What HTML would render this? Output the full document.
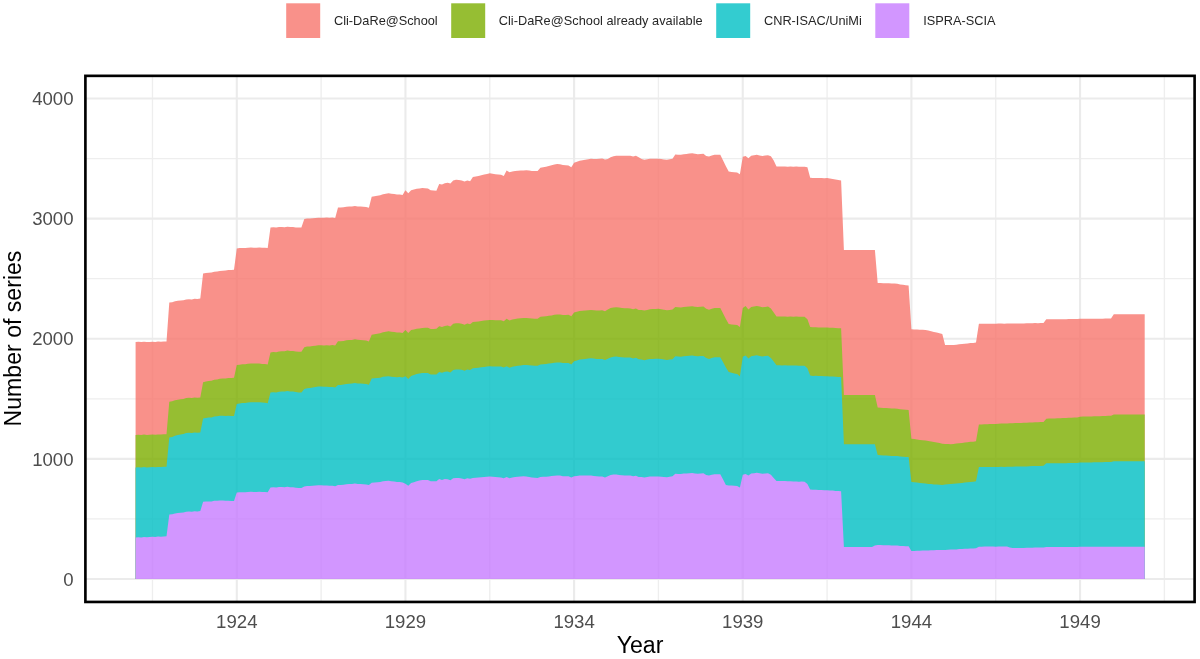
<!DOCTYPE html>
<html lang="en"><head><meta charset="utf-8"><title>Number of series per year</title>
<style>
html,body{margin:0;padding:0;background:#fff;}
body{width:1200px;height:659px;overflow:hidden;font-family:"Liberation Sans",Arial,sans-serif;}
svg{display:block}
svg text{font-family:"Liberation Sans",Arial,sans-serif;}
.mj{stroke:#ebebeb;stroke-width:2.1;}
.mn{stroke:#eeeeee;stroke-width:1.35;}
.tk{font-size:18.6px;fill:#4d4d4d;}
.ttl{font-size:23.1px;fill:#000;}
.lg{font-size:12.75px;fill:#262626;}
</style></head><body>
<svg width="1200" height="659" viewBox="0 0 1200 659">
<rect width="1200" height="659" fill="#fff"/>
<g id="legend">
<rect x="286.2" y="3.3" width="34" height="34.7" fill="#F8766D" fill-opacity="0.8"/>
<text x="334" y="24.8" class="lg">Cli-DaRe@School</text>
<rect x="451.2" y="3.3" width="34" height="34.7" fill="#7CAE00" fill-opacity="0.8"/>
<text x="498.7" y="24.8" class="lg" textLength="204" lengthAdjust="spacing">Cli-DaRe@School already available</text>
<rect x="716.2" y="3.3" width="34" height="34.7" fill="#00BFC4" fill-opacity="0.8"/>
<text x="764" y="24.8" class="lg">CNR-ISAC/UniMi</text>
<rect x="875.3" y="3.3" width="34" height="34.7" fill="#C77CFF" fill-opacity="0.8"/>
<text x="923.3" y="24.8" class="lg">ISPRA-SCIA</text>
</g>
<g id="grid">
<line x1="85.4" x2="1194.6" y1="518.94" y2="518.94" class="mn"/>
<line x1="85.4" x2="1194.6" y1="398.81" y2="398.81" class="mn"/>
<line x1="85.4" x2="1194.6" y1="278.69" y2="278.69" class="mn"/>
<line x1="85.4" x2="1194.6" y1="158.56" y2="158.56" class="mn"/>
<line y1="75.85" y2="601.95" x1="152.48" x2="152.48" class="mn"/>
<line y1="75.85" y2="601.95" x1="321.12" x2="321.12" class="mn"/>
<line y1="75.85" y2="601.95" x1="489.77" x2="489.77" class="mn"/>
<line y1="75.85" y2="601.95" x1="658.42" x2="658.42" class="mn"/>
<line y1="75.85" y2="601.95" x1="827.08" x2="827.08" class="mn"/>
<line y1="75.85" y2="601.95" x1="995.72" x2="995.72" class="mn"/>
<line y1="75.85" y2="601.95" x1="1164.38" x2="1164.38" class="mn"/>
<line x1="85.4" x2="1194.6" y1="579.00" y2="579.00" class="mj"/>
<line x1="85.4" x2="1194.6" y1="458.88" y2="458.88" class="mj"/>
<line x1="85.4" x2="1194.6" y1="338.75" y2="338.75" class="mj"/>
<line x1="85.4" x2="1194.6" y1="218.62" y2="218.62" class="mj"/>
<line x1="85.4" x2="1194.6" y1="98.50" y2="98.50" class="mj"/>
<line y1="75.85" y2="601.95" x1="236.80" x2="236.80" class="mj"/>
<line y1="75.85" y2="601.95" x1="405.45" x2="405.45" class="mj"/>
<line y1="75.85" y2="601.95" x1="574.10" x2="574.10" class="mj"/>
<line y1="75.85" y2="601.95" x1="742.75" x2="742.75" class="mj"/>
<line y1="75.85" y2="601.95" x1="911.40" x2="911.40" class="mj"/>
<line y1="75.85" y2="601.95" x1="1080.05" x2="1080.05" class="mj"/>
</g>
<g id="areas" opacity="0.8" stroke="none">
<path d="M135.6,341.9 L138.4,341.8 L141.2,342.1 L144.0,341.7 L146.9,342.0 L149.7,341.9 L152.5,341.7 L155.3,342.0 L158.1,341.6 L160.9,341.8 L163.7,341.5 L166.5,341.5 L169.3,302.5 L172.2,302.2 L175.0,301.3 L177.8,300.8 L180.6,300.6 L183.4,300.3 L186.2,299.5 L189.0,299.3 L191.8,299.5 L194.6,298.8 L197.4,299.1 L200.3,298.6 L203.1,273.5 L205.9,273.1 L208.7,272.7 L211.5,272.6 L214.3,271.7 L217.1,271.5 L219.9,271.1 L222.7,270.7 L225.6,270.6 L228.4,270.1 L231.2,269.9 L234.0,269.8 L236.8,248.4 L239.6,248.1 L242.4,247.9 L245.2,247.9 L248.0,247.7 L250.9,247.5 L253.7,247.7 L256.5,247.7 L259.3,247.4 L262.1,247.7 L264.9,247.7 L267.7,248.0 L270.5,227.6 L273.3,227.3 L276.2,227.6 L279.0,227.0 L281.8,227.1 L284.6,227.2 L287.4,226.8 L290.2,227.1 L293.0,226.9 L295.8,227.4 L298.6,227.6 L301.4,227.5 L304.3,219.0 L307.1,218.4 L309.9,218.5 L312.7,218.2 L315.5,218.0 L318.3,217.7 L321.1,217.7 L323.9,217.8 L326.7,217.6 L329.6,217.7 L332.4,217.4 L335.2,217.9 L338.0,207.6 L340.8,207.6 L343.6,207.3 L346.4,206.7 L349.2,206.6 L352.0,206.6 L354.9,206.0 L357.7,206.5 L360.5,206.6 L363.3,206.8 L366.1,207.0 L368.9,207.7 L371.7,196.8 L374.5,196.2 L377.3,195.7 L380.2,195.3 L383.0,194.2 L385.8,193.8 L388.6,193.3 L391.4,193.8 L394.2,194.1 L397.0,194.5 L399.8,194.5 L402.6,194.9 L405.4,190.3 L408.3,193.3 L411.1,190.3 L413.9,189.5 L416.7,188.8 L419.5,188.4 L422.3,188.0 L425.1,188.2 L427.9,188.5 L430.7,190.3 L433.6,190.5 L436.4,190.8 L439.2,184.0 L442.0,184.6 L444.8,183.2 L447.6,182.8 L450.4,183.5 L453.2,180.5 L456.0,179.8 L458.9,179.9 L461.7,180.5 L464.5,181.6 L467.3,180.5 L470.1,181.3 L472.9,177.1 L475.7,176.5 L478.5,176.0 L481.3,175.2 L484.2,174.5 L487.0,173.9 L489.8,173.3 L492.6,173.7 L495.4,174.2 L498.2,174.5 L501.0,174.8 L503.8,176.0 L506.6,170.5 L509.5,172.3 L512.3,171.5 L515.1,171.1 L517.9,170.8 L520.7,170.6 L523.5,170.4 L526.3,170.3 L529.1,170.6 L531.9,170.9 L534.7,171.1 L537.6,171.1 L540.4,167.8 L543.2,167.2 L546.0,166.7 L548.8,166.0 L551.6,165.3 L554.4,164.5 L557.2,163.9 L560.0,164.2 L562.9,165.1 L565.7,165.3 L568.5,165.5 L571.3,167.3 L574.1,162.8 L576.9,161.8 L579.7,160.8 L582.5,160.3 L585.3,159.8 L588.2,159.2 L591.0,158.7 L593.8,158.9 L596.6,159.0 L599.4,158.8 L602.2,158.6 L605.0,159.5 L607.8,159.0 L610.6,157.2 L613.5,156.2 L616.3,155.7 L619.1,155.7 L621.9,155.7 L624.7,155.7 L627.5,155.7 L630.3,155.7 L633.1,156.5 L635.9,155.7 L638.7,157.2 L641.6,159.0 L644.4,159.8 L647.2,159.2 L650.0,158.7 L652.8,158.7 L655.6,158.7 L658.4,158.7 L661.2,159.0 L664.0,159.4 L666.9,159.8 L669.7,159.2 L672.5,158.7 L675.3,154.5 L678.1,154.7 L680.9,154.8 L683.7,154.2 L686.5,153.9 L689.3,153.6 L692.2,153.3 L695.0,153.8 L697.8,154.2 L700.6,154.0 L703.4,153.8 L706.2,156.0 L709.0,156.5 L711.8,155.5 L714.6,154.8 L717.5,154.8 L720.3,154.8 L723.1,160.5 L725.9,166.2 L728.7,171.5 L731.5,172.0 L734.3,172.3 L737.1,172.5 L739.9,174.3 L742.8,156.8 L745.6,156.0 L748.4,158.3 L751.2,155.7 L754.0,155.2 L756.8,154.8 L759.6,155.4 L762.4,156.0 L765.2,155.6 L768.0,155.3 L770.9,156.3 L773.7,160.5 L776.5,166.5 L779.3,166.5 L782.1,166.6 L784.9,166.5 L787.7,166.7 L790.5,166.6 L793.3,166.7 L796.2,166.6 L799.0,166.8 L801.8,166.7 L804.6,166.8 L807.4,167.3 L810.2,177.8 L813.0,178.1 L815.8,178.0 L818.6,178.1 L821.5,178.1 L824.3,178.2 L827.1,178.1 L829.9,178.6 L832.7,179.0 L835.5,179.5 L838.3,180.0 L841.1,180.4 L843.9,250.0 L846.8,250.1 L849.6,250.1 L852.4,249.9 L855.2,249.9 L858.0,249.9 L860.8,249.9 L863.6,250.0 L866.4,250.0 L869.2,250.0 L872.0,249.9 L874.9,250.0 L877.7,283.0 L880.5,283.1 L883.3,283.3 L886.1,283.3 L888.9,283.3 L891.7,283.4 L894.5,283.5 L897.3,283.8 L900.2,284.4 L903.0,284.8 L905.8,285.2 L908.6,285.6 L911.4,329.2 L914.2,329.4 L917.0,329.5 L919.8,329.7 L922.6,329.8 L925.5,329.9 L928.3,330.6 L931.1,331.2 L933.9,331.9 L936.7,332.5 L939.5,333.2 L942.3,333.9 L945.1,344.9 L947.9,345.0 L950.8,344.9 L953.6,345.1 L956.4,344.7 L959.2,344.3 L962.0,344.0 L964.8,343.7 L967.6,343.4 L970.4,343.0 L973.2,342.9 L976.0,342.6 L978.9,323.7 L981.7,323.7 L984.5,323.7 L987.3,323.7 L990.1,323.7 L992.9,323.7 L995.7,323.8 L998.5,323.6 L1001.3,323.6 L1004.2,323.7 L1007.0,323.6 L1009.8,323.4 L1012.6,323.5 L1015.4,323.4 L1018.2,323.4 L1021.0,323.5 L1023.8,323.4 L1026.6,323.3 L1029.5,323.2 L1032.3,323.2 L1035.1,323.1 L1037.9,323.2 L1040.7,323.1 L1043.5,323.1 L1046.3,319.2 L1049.1,319.2 L1051.9,319.3 L1054.8,319.3 L1057.6,319.3 L1060.4,319.3 L1063.2,319.3 L1066.0,319.2 L1068.8,319.1 L1071.6,319.1 L1074.4,319.0 L1077.2,318.9 L1080.0,318.7 L1082.9,318.7 L1085.7,318.7 L1088.5,318.8 L1091.3,318.8 L1094.1,318.7 L1096.9,318.8 L1099.7,318.8 L1102.5,318.7 L1105.3,318.6 L1108.2,318.5 L1111.0,318.4 L1113.8,314.2 L1116.6,314.2 L1119.4,314.3 L1122.2,314.3 L1125.0,314.3 L1127.8,314.2 L1130.6,314.3 L1133.5,314.3 L1136.3,314.2 L1139.1,314.3 L1141.9,314.3 L1144.7,314.3 L1144.7,579.0 L1141.9,579.0 L1139.1,579.0 L1136.3,579.0 L1133.5,579.0 L1130.6,579.0 L1127.8,579.0 L1125.0,579.0 L1122.2,579.0 L1119.4,579.0 L1116.6,579.0 L1113.8,579.0 L1111.0,579.0 L1108.2,579.0 L1105.3,579.0 L1102.5,579.0 L1099.7,579.0 L1096.9,579.0 L1094.1,579.0 L1091.3,579.0 L1088.5,579.0 L1085.7,579.0 L1082.9,579.0 L1080.0,579.0 L1077.2,579.0 L1074.4,579.0 L1071.6,579.0 L1068.8,579.0 L1066.0,579.0 L1063.2,579.0 L1060.4,579.0 L1057.6,579.0 L1054.8,579.0 L1051.9,579.0 L1049.1,579.0 L1046.3,579.0 L1043.5,579.0 L1040.7,579.0 L1037.9,579.0 L1035.1,579.0 L1032.3,579.0 L1029.5,579.0 L1026.6,579.0 L1023.8,579.0 L1021.0,579.0 L1018.2,579.0 L1015.4,579.0 L1012.6,579.0 L1009.8,579.0 L1007.0,579.0 L1004.2,579.0 L1001.3,579.0 L998.5,579.0 L995.7,579.0 L992.9,579.0 L990.1,579.0 L987.3,579.0 L984.5,579.0 L981.7,579.0 L978.9,579.0 L976.0,579.0 L973.2,579.0 L970.4,579.0 L967.6,579.0 L964.8,579.0 L962.0,579.0 L959.2,579.0 L956.4,579.0 L953.6,579.0 L950.8,579.0 L947.9,579.0 L945.1,579.0 L942.3,579.0 L939.5,579.0 L936.7,579.0 L933.9,579.0 L931.1,579.0 L928.3,579.0 L925.5,579.0 L922.6,579.0 L919.8,579.0 L917.0,579.0 L914.2,579.0 L911.4,579.0 L908.6,579.0 L905.8,579.0 L903.0,579.0 L900.2,579.0 L897.3,579.0 L894.5,579.0 L891.7,579.0 L888.9,579.0 L886.1,579.0 L883.3,579.0 L880.5,579.0 L877.7,579.0 L874.9,579.0 L872.0,579.0 L869.2,579.0 L866.4,579.0 L863.6,579.0 L860.8,579.0 L858.0,579.0 L855.2,579.0 L852.4,579.0 L849.6,579.0 L846.8,579.0 L843.9,579.0 L841.1,579.0 L838.3,579.0 L835.5,579.0 L832.7,579.0 L829.9,579.0 L827.1,579.0 L824.3,579.0 L821.5,579.0 L818.6,579.0 L815.8,579.0 L813.0,579.0 L810.2,579.0 L807.4,579.0 L804.6,579.0 L801.8,579.0 L799.0,579.0 L796.2,579.0 L793.3,579.0 L790.5,579.0 L787.7,579.0 L784.9,579.0 L782.1,579.0 L779.3,579.0 L776.5,579.0 L773.7,579.0 L770.9,579.0 L768.0,579.0 L765.2,579.0 L762.4,579.0 L759.6,579.0 L756.8,579.0 L754.0,579.0 L751.2,579.0 L748.4,579.0 L745.6,579.0 L742.8,579.0 L739.9,579.0 L737.1,579.0 L734.3,579.0 L731.5,579.0 L728.7,579.0 L725.9,579.0 L723.1,579.0 L720.3,579.0 L717.5,579.0 L714.6,579.0 L711.8,579.0 L709.0,579.0 L706.2,579.0 L703.4,579.0 L700.6,579.0 L697.8,579.0 L695.0,579.0 L692.2,579.0 L689.3,579.0 L686.5,579.0 L683.7,579.0 L680.9,579.0 L678.1,579.0 L675.3,579.0 L672.5,579.0 L669.7,579.0 L666.9,579.0 L664.0,579.0 L661.2,579.0 L658.4,579.0 L655.6,579.0 L652.8,579.0 L650.0,579.0 L647.2,579.0 L644.4,579.0 L641.6,579.0 L638.7,579.0 L635.9,579.0 L633.1,579.0 L630.3,579.0 L627.5,579.0 L624.7,579.0 L621.9,579.0 L619.1,579.0 L616.3,579.0 L613.5,579.0 L610.6,579.0 L607.8,579.0 L605.0,579.0 L602.2,579.0 L599.4,579.0 L596.6,579.0 L593.8,579.0 L591.0,579.0 L588.2,579.0 L585.3,579.0 L582.5,579.0 L579.7,579.0 L576.9,579.0 L574.1,579.0 L571.3,579.0 L568.5,579.0 L565.7,579.0 L562.9,579.0 L560.0,579.0 L557.2,579.0 L554.4,579.0 L551.6,579.0 L548.8,579.0 L546.0,579.0 L543.2,579.0 L540.4,579.0 L537.6,579.0 L534.7,579.0 L531.9,579.0 L529.1,579.0 L526.3,579.0 L523.5,579.0 L520.7,579.0 L517.9,579.0 L515.1,579.0 L512.3,579.0 L509.5,579.0 L506.6,579.0 L503.8,579.0 L501.0,579.0 L498.2,579.0 L495.4,579.0 L492.6,579.0 L489.8,579.0 L487.0,579.0 L484.2,579.0 L481.3,579.0 L478.5,579.0 L475.7,579.0 L472.9,579.0 L470.1,579.0 L467.3,579.0 L464.5,579.0 L461.7,579.0 L458.9,579.0 L456.0,579.0 L453.2,579.0 L450.4,579.0 L447.6,579.0 L444.8,579.0 L442.0,579.0 L439.2,579.0 L436.4,579.0 L433.6,579.0 L430.7,579.0 L427.9,579.0 L425.1,579.0 L422.3,579.0 L419.5,579.0 L416.7,579.0 L413.9,579.0 L411.1,579.0 L408.3,579.0 L405.4,579.0 L402.6,579.0 L399.8,579.0 L397.0,579.0 L394.2,579.0 L391.4,579.0 L388.6,579.0 L385.8,579.0 L383.0,579.0 L380.2,579.0 L377.3,579.0 L374.5,579.0 L371.7,579.0 L368.9,579.0 L366.1,579.0 L363.3,579.0 L360.5,579.0 L357.7,579.0 L354.9,579.0 L352.0,579.0 L349.2,579.0 L346.4,579.0 L343.6,579.0 L340.8,579.0 L338.0,579.0 L335.2,579.0 L332.4,579.0 L329.6,579.0 L326.7,579.0 L323.9,579.0 L321.1,579.0 L318.3,579.0 L315.5,579.0 L312.7,579.0 L309.9,579.0 L307.1,579.0 L304.3,579.0 L301.4,579.0 L298.6,579.0 L295.8,579.0 L293.0,579.0 L290.2,579.0 L287.4,579.0 L284.6,579.0 L281.8,579.0 L279.0,579.0 L276.2,579.0 L273.3,579.0 L270.5,579.0 L267.7,579.0 L264.9,579.0 L262.1,579.0 L259.3,579.0 L256.5,579.0 L253.7,579.0 L250.9,579.0 L248.0,579.0 L245.2,579.0 L242.4,579.0 L239.6,579.0 L236.8,579.0 L234.0,579.0 L231.2,579.0 L228.4,579.0 L225.6,579.0 L222.7,579.0 L219.9,579.0 L217.1,579.0 L214.3,579.0 L211.5,579.0 L208.7,579.0 L205.9,579.0 L203.1,579.0 L200.3,579.0 L197.4,579.0 L194.6,579.0 L191.8,579.0 L189.0,579.0 L186.2,579.0 L183.4,579.0 L180.6,579.0 L177.8,579.0 L175.0,579.0 L172.2,579.0 L169.3,579.0 L166.5,579.0 L163.7,579.0 L160.9,579.0 L158.1,579.0 L155.3,579.0 L152.5,579.0 L149.7,579.0 L146.9,579.0 L144.0,579.0 L141.2,579.0 L138.4,579.0 L135.6,579.0Z" fill="#F8766D"/>
<path d="M135.6,434.9 L138.4,434.7 L141.2,435.0 L144.0,434.6 L146.9,434.9 L149.7,434.7 L152.5,434.5 L155.3,434.7 L158.1,434.4 L160.9,434.6 L163.7,434.3 L166.5,434.3 L169.3,401.7 L172.2,401.3 L175.0,400.3 L177.8,399.7 L180.6,399.3 L183.4,398.9 L186.2,398.0 L189.0,397.8 L191.8,398.1 L194.6,397.4 L197.4,397.8 L200.3,397.4 L203.1,382.3 L205.9,381.6 L208.7,381.1 L211.5,380.8 L214.3,379.8 L217.1,379.4 L219.9,378.8 L222.7,378.5 L225.6,378.5 L228.4,378.0 L231.2,377.9 L234.0,377.8 L236.8,365.1 L239.6,364.7 L242.4,364.3 L245.2,364.2 L248.0,363.8 L250.9,363.4 L253.7,363.4 L256.5,363.6 L259.3,363.5 L262.1,363.9 L264.9,364.1 L267.7,364.5 L270.5,352.6 L273.3,352.1 L276.2,352.2 L279.0,351.4 L281.8,351.3 L284.6,351.2 L287.4,350.5 L290.2,350.9 L293.0,350.9 L295.8,351.5 L298.6,351.7 L301.4,351.8 L304.3,347.2 L307.1,346.6 L309.9,346.5 L312.7,346.1 L315.5,345.7 L318.3,345.3 L321.1,345.2 L323.9,345.4 L326.7,345.2 L329.6,345.4 L332.4,345.1 L335.2,345.6 L338.0,341.3 L340.8,341.3 L343.6,340.9 L346.4,340.2 L349.2,340.0 L352.0,339.9 L354.9,339.2 L357.7,339.8 L360.5,340.0 L363.3,340.3 L366.1,340.6 L368.9,341.4 L371.7,334.8 L374.5,334.2 L377.3,333.7 L380.2,333.3 L383.0,332.2 L385.8,331.8 L388.6,331.3 L391.4,331.8 L394.2,332.1 L397.0,332.5 L399.8,332.5 L402.6,332.9 L405.4,330.0 L408.3,333.1 L411.1,330.1 L413.9,329.4 L416.7,328.7 L419.5,328.4 L422.3,328.0 L425.1,327.8 L427.9,327.7 L430.7,329.1 L433.6,328.9 L436.4,328.8 L439.2,326.2 L442.0,327.0 L444.8,325.9 L447.6,325.6 L450.4,326.5 L453.2,323.8 L456.0,323.2 L458.9,323.2 L461.7,323.8 L464.5,324.8 L467.3,323.6 L470.1,324.2 L472.9,322.0 L475.7,321.7 L478.5,321.5 L481.3,321.0 L484.2,320.6 L487.0,320.3 L489.8,320.0 L492.6,320.1 L495.4,320.3 L498.2,320.3 L501.0,320.3 L503.8,321.2 L506.6,318.8 L509.5,320.4 L512.3,319.5 L515.1,319.0 L517.9,318.6 L520.7,318.3 L523.5,318.0 L526.3,317.9 L529.1,318.2 L531.9,318.5 L534.7,318.7 L537.6,318.8 L540.4,316.8 L543.2,316.4 L546.0,316.2 L548.8,315.8 L551.6,315.4 L554.4,314.8 L557.2,314.5 L560.0,314.5 L562.9,315.0 L565.7,314.9 L568.5,314.8 L571.3,316.2 L574.1,312.5 L576.9,311.8 L579.7,311.0 L582.5,310.8 L585.3,310.6 L588.2,310.2 L591.0,310.0 L593.8,310.3 L596.6,310.5 L599.4,310.4 L602.2,310.3 L605.0,311.2 L607.8,309.5 L610.6,308.0 L613.5,307.4 L616.3,307.2 L619.1,307.6 L621.9,307.9 L624.7,308.2 L627.5,308.3 L630.3,308.4 L633.1,309.2 L635.9,308.4 L638.7,310.0 L641.6,310.0 L644.4,310.6 L647.2,309.9 L650.0,309.2 L652.8,309.1 L655.6,308.9 L658.4,308.8 L661.2,309.2 L664.0,309.8 L666.9,310.3 L669.7,309.9 L672.5,309.5 L675.3,307.0 L678.1,307.3 L680.9,307.5 L683.7,306.9 L686.5,306.7 L689.3,306.5 L692.2,306.2 L695.0,306.7 L697.8,307.1 L700.6,306.8 L703.4,306.6 L706.2,308.8 L709.0,309.8 L711.8,308.8 L714.6,308.1 L717.5,308.1 L720.3,308.1 L723.1,313.5 L725.9,318.9 L728.7,324.0 L731.5,324.4 L734.3,324.8 L737.1,325.1 L739.9,327.1 L742.8,308.1 L745.6,306.0 L748.4,309.6 L751.2,306.9 L754.0,306.4 L756.8,306.1 L759.6,306.6 L762.4,307.2 L765.2,306.9 L768.0,306.6 L770.9,308.5 L773.7,312.5 L776.5,316.5 L779.3,316.5 L782.1,316.6 L784.9,316.5 L787.7,316.7 L790.5,316.6 L793.3,316.7 L796.2,316.6 L799.0,316.8 L801.8,316.7 L804.6,316.8 L807.4,319.3 L810.2,327.0 L813.0,327.3 L815.8,327.3 L818.6,327.4 L821.5,327.4 L824.3,327.6 L827.1,327.5 L829.9,327.7 L832.7,327.8 L835.5,328.0 L838.3,328.2 L841.1,328.2 L843.9,395.0 L846.8,395.1 L849.6,395.1 L852.4,394.9 L855.2,394.9 L858.0,394.9 L860.8,394.9 L863.6,395.0 L866.4,395.0 L869.2,395.0 L872.0,394.9 L874.9,395.0 L877.7,407.5 L880.5,407.7 L883.3,407.9 L886.1,408.0 L888.9,408.2 L891.7,408.4 L894.5,408.5 L897.3,408.7 L900.2,409.2 L903.0,409.5 L905.8,409.8 L908.6,410.1 L911.4,438.7 L914.2,439.1 L917.0,439.4 L919.8,439.9 L922.6,440.2 L925.5,440.5 L928.3,440.9 L931.1,441.5 L933.9,442.1 L936.7,442.6 L939.5,443.1 L942.3,443.7 L945.1,443.9 L947.9,444.1 L950.8,444.2 L953.6,444.0 L956.4,443.6 L959.2,443.2 L962.0,442.9 L964.8,442.6 L967.6,442.2 L970.4,441.8 L973.2,441.7 L976.0,441.3 L978.9,424.5 L981.7,424.4 L984.5,424.3 L987.3,424.2 L990.1,424.1 L992.9,424.0 L995.7,424.1 L998.5,423.8 L1001.3,423.6 L1004.2,423.6 L1007.0,423.4 L1009.8,423.2 L1012.6,423.3 L1015.4,423.0 L1018.2,423.0 L1021.0,423.0 L1023.8,422.8 L1026.6,422.7 L1029.5,422.5 L1032.3,422.4 L1035.1,422.2 L1037.9,422.3 L1040.7,422.1 L1043.5,422.1 L1046.3,418.7 L1049.1,418.6 L1051.9,418.6 L1054.8,418.5 L1057.6,418.3 L1060.4,418.2 L1063.2,418.1 L1066.0,417.9 L1068.8,417.7 L1071.6,417.7 L1074.4,417.6 L1077.2,417.4 L1080.0,416.7 L1082.9,416.6 L1085.7,416.5 L1088.5,416.5 L1091.3,416.5 L1094.1,416.3 L1096.9,416.3 L1099.7,416.2 L1102.5,416.1 L1105.3,415.9 L1108.2,415.8 L1111.0,415.7 L1113.8,414.4 L1116.6,414.4 L1119.4,414.5 L1122.2,414.6 L1125.0,414.6 L1127.8,414.5 L1130.6,414.5 L1133.5,414.6 L1136.3,414.4 L1139.1,414.5 L1141.9,414.6 L1144.7,414.6 L1144.7,579.0 L1141.9,579.0 L1139.1,579.0 L1136.3,579.0 L1133.5,579.0 L1130.6,579.0 L1127.8,579.0 L1125.0,579.0 L1122.2,579.0 L1119.4,579.0 L1116.6,579.0 L1113.8,579.0 L1111.0,579.0 L1108.2,579.0 L1105.3,579.0 L1102.5,579.0 L1099.7,579.0 L1096.9,579.0 L1094.1,579.0 L1091.3,579.0 L1088.5,579.0 L1085.7,579.0 L1082.9,579.0 L1080.0,579.0 L1077.2,579.0 L1074.4,579.0 L1071.6,579.0 L1068.8,579.0 L1066.0,579.0 L1063.2,579.0 L1060.4,579.0 L1057.6,579.0 L1054.8,579.0 L1051.9,579.0 L1049.1,579.0 L1046.3,579.0 L1043.5,579.0 L1040.7,579.0 L1037.9,579.0 L1035.1,579.0 L1032.3,579.0 L1029.5,579.0 L1026.6,579.0 L1023.8,579.0 L1021.0,579.0 L1018.2,579.0 L1015.4,579.0 L1012.6,579.0 L1009.8,579.0 L1007.0,579.0 L1004.2,579.0 L1001.3,579.0 L998.5,579.0 L995.7,579.0 L992.9,579.0 L990.1,579.0 L987.3,579.0 L984.5,579.0 L981.7,579.0 L978.9,579.0 L976.0,579.0 L973.2,579.0 L970.4,579.0 L967.6,579.0 L964.8,579.0 L962.0,579.0 L959.2,579.0 L956.4,579.0 L953.6,579.0 L950.8,579.0 L947.9,579.0 L945.1,579.0 L942.3,579.0 L939.5,579.0 L936.7,579.0 L933.9,579.0 L931.1,579.0 L928.3,579.0 L925.5,579.0 L922.6,579.0 L919.8,579.0 L917.0,579.0 L914.2,579.0 L911.4,579.0 L908.6,579.0 L905.8,579.0 L903.0,579.0 L900.2,579.0 L897.3,579.0 L894.5,579.0 L891.7,579.0 L888.9,579.0 L886.1,579.0 L883.3,579.0 L880.5,579.0 L877.7,579.0 L874.9,579.0 L872.0,579.0 L869.2,579.0 L866.4,579.0 L863.6,579.0 L860.8,579.0 L858.0,579.0 L855.2,579.0 L852.4,579.0 L849.6,579.0 L846.8,579.0 L843.9,579.0 L841.1,579.0 L838.3,579.0 L835.5,579.0 L832.7,579.0 L829.9,579.0 L827.1,579.0 L824.3,579.0 L821.5,579.0 L818.6,579.0 L815.8,579.0 L813.0,579.0 L810.2,579.0 L807.4,579.0 L804.6,579.0 L801.8,579.0 L799.0,579.0 L796.2,579.0 L793.3,579.0 L790.5,579.0 L787.7,579.0 L784.9,579.0 L782.1,579.0 L779.3,579.0 L776.5,579.0 L773.7,579.0 L770.9,579.0 L768.0,579.0 L765.2,579.0 L762.4,579.0 L759.6,579.0 L756.8,579.0 L754.0,579.0 L751.2,579.0 L748.4,579.0 L745.6,579.0 L742.8,579.0 L739.9,579.0 L737.1,579.0 L734.3,579.0 L731.5,579.0 L728.7,579.0 L725.9,579.0 L723.1,579.0 L720.3,579.0 L717.5,579.0 L714.6,579.0 L711.8,579.0 L709.0,579.0 L706.2,579.0 L703.4,579.0 L700.6,579.0 L697.8,579.0 L695.0,579.0 L692.2,579.0 L689.3,579.0 L686.5,579.0 L683.7,579.0 L680.9,579.0 L678.1,579.0 L675.3,579.0 L672.5,579.0 L669.7,579.0 L666.9,579.0 L664.0,579.0 L661.2,579.0 L658.4,579.0 L655.6,579.0 L652.8,579.0 L650.0,579.0 L647.2,579.0 L644.4,579.0 L641.6,579.0 L638.7,579.0 L635.9,579.0 L633.1,579.0 L630.3,579.0 L627.5,579.0 L624.7,579.0 L621.9,579.0 L619.1,579.0 L616.3,579.0 L613.5,579.0 L610.6,579.0 L607.8,579.0 L605.0,579.0 L602.2,579.0 L599.4,579.0 L596.6,579.0 L593.8,579.0 L591.0,579.0 L588.2,579.0 L585.3,579.0 L582.5,579.0 L579.7,579.0 L576.9,579.0 L574.1,579.0 L571.3,579.0 L568.5,579.0 L565.7,579.0 L562.9,579.0 L560.0,579.0 L557.2,579.0 L554.4,579.0 L551.6,579.0 L548.8,579.0 L546.0,579.0 L543.2,579.0 L540.4,579.0 L537.6,579.0 L534.7,579.0 L531.9,579.0 L529.1,579.0 L526.3,579.0 L523.5,579.0 L520.7,579.0 L517.9,579.0 L515.1,579.0 L512.3,579.0 L509.5,579.0 L506.6,579.0 L503.8,579.0 L501.0,579.0 L498.2,579.0 L495.4,579.0 L492.6,579.0 L489.8,579.0 L487.0,579.0 L484.2,579.0 L481.3,579.0 L478.5,579.0 L475.7,579.0 L472.9,579.0 L470.1,579.0 L467.3,579.0 L464.5,579.0 L461.7,579.0 L458.9,579.0 L456.0,579.0 L453.2,579.0 L450.4,579.0 L447.6,579.0 L444.8,579.0 L442.0,579.0 L439.2,579.0 L436.4,579.0 L433.6,579.0 L430.7,579.0 L427.9,579.0 L425.1,579.0 L422.3,579.0 L419.5,579.0 L416.7,579.0 L413.9,579.0 L411.1,579.0 L408.3,579.0 L405.4,579.0 L402.6,579.0 L399.8,579.0 L397.0,579.0 L394.2,579.0 L391.4,579.0 L388.6,579.0 L385.8,579.0 L383.0,579.0 L380.2,579.0 L377.3,579.0 L374.5,579.0 L371.7,579.0 L368.9,579.0 L366.1,579.0 L363.3,579.0 L360.5,579.0 L357.7,579.0 L354.9,579.0 L352.0,579.0 L349.2,579.0 L346.4,579.0 L343.6,579.0 L340.8,579.0 L338.0,579.0 L335.2,579.0 L332.4,579.0 L329.6,579.0 L326.7,579.0 L323.9,579.0 L321.1,579.0 L318.3,579.0 L315.5,579.0 L312.7,579.0 L309.9,579.0 L307.1,579.0 L304.3,579.0 L301.4,579.0 L298.6,579.0 L295.8,579.0 L293.0,579.0 L290.2,579.0 L287.4,579.0 L284.6,579.0 L281.8,579.0 L279.0,579.0 L276.2,579.0 L273.3,579.0 L270.5,579.0 L267.7,579.0 L264.9,579.0 L262.1,579.0 L259.3,579.0 L256.5,579.0 L253.7,579.0 L250.9,579.0 L248.0,579.0 L245.2,579.0 L242.4,579.0 L239.6,579.0 L236.8,579.0 L234.0,579.0 L231.2,579.0 L228.4,579.0 L225.6,579.0 L222.7,579.0 L219.9,579.0 L217.1,579.0 L214.3,579.0 L211.5,579.0 L208.7,579.0 L205.9,579.0 L203.1,579.0 L200.3,579.0 L197.4,579.0 L194.6,579.0 L191.8,579.0 L189.0,579.0 L186.2,579.0 L183.4,579.0 L180.6,579.0 L177.8,579.0 L175.0,579.0 L172.2,579.0 L169.3,579.0 L166.5,579.0 L163.7,579.0 L160.9,579.0 L158.1,579.0 L155.3,579.0 L152.5,579.0 L149.7,579.0 L146.9,579.0 L144.0,579.0 L141.2,579.0 L138.4,579.0 L135.6,579.0Z" fill="#7CAE00"/>
<path d="M135.6,467.4 L138.4,467.3 L141.2,467.5 L144.0,467.1 L146.9,467.4 L149.7,467.2 L152.5,467.0 L155.3,467.2 L158.1,466.9 L160.9,467.1 L163.7,466.8 L166.5,466.8 L169.3,437.5 L172.2,436.9 L175.0,435.8 L177.8,435.1 L180.6,434.6 L183.4,434.0 L186.2,433.0 L189.0,432.8 L191.8,433.1 L194.6,432.4 L197.4,432.8 L200.3,432.4 L203.1,418.5 L205.9,418.0 L208.7,417.6 L211.5,417.4 L214.3,416.6 L217.1,416.3 L219.9,415.8 L222.7,415.8 L225.6,416.0 L228.4,415.8 L231.2,415.9 L234.0,416.1 L236.8,403.9 L239.6,403.4 L242.4,403.1 L245.2,402.9 L248.0,402.6 L250.9,402.2 L253.7,402.2 L256.5,402.3 L259.3,402.3 L262.1,402.6 L264.9,402.8 L267.7,403.2 L270.5,392.6 L273.3,392.2 L276.2,392.4 L279.0,391.7 L281.8,391.6 L284.6,391.6 L287.4,391.1 L290.2,391.5 L293.0,391.5 L295.8,392.1 L298.6,392.4 L301.4,392.5 L304.3,389.0 L307.1,388.2 L309.9,388.0 L312.7,387.6 L315.5,387.1 L318.3,386.6 L321.1,386.4 L323.9,386.8 L326.7,386.7 L329.6,387.1 L332.4,387.0 L335.2,387.6 L338.0,385.1 L340.8,385.0 L343.6,384.6 L346.4,384.0 L349.2,383.8 L352.0,383.6 L354.9,383.0 L357.7,383.5 L360.5,383.6 L363.3,383.8 L366.1,384.0 L368.9,384.7 L371.7,378.5 L374.5,378.2 L377.3,377.9 L380.2,377.7 L383.0,376.8 L385.8,376.6 L388.6,376.3 L391.4,376.7 L394.2,376.9 L397.0,377.2 L399.8,377.1 L402.6,377.5 L405.4,376.2 L408.3,378.9 L411.1,375.9 L413.9,375.0 L416.7,374.1 L419.5,373.6 L422.3,373.0 L425.1,373.0 L427.9,373.0 L430.7,374.5 L433.6,374.5 L436.4,374.5 L439.2,372.0 L442.0,372.8 L444.8,371.7 L447.6,371.6 L450.4,372.5 L453.2,369.9 L456.0,369.5 L458.9,369.4 L461.7,369.8 L464.5,370.7 L467.3,369.4 L470.1,370.0 L472.9,368.2 L475.7,367.9 L478.5,367.7 L481.3,367.2 L484.2,366.9 L487.0,366.6 L489.8,366.2 L492.6,366.4 L495.4,366.6 L498.2,366.6 L501.0,366.6 L503.8,367.5 L506.6,366.2 L509.5,367.8 L512.3,366.8 L515.1,366.2 L517.9,365.8 L520.7,365.4 L523.5,365.0 L526.3,364.9 L529.1,365.2 L531.9,365.5 L534.7,365.7 L537.6,365.8 L540.4,364.5 L543.2,364.2 L546.0,364.0 L548.8,363.6 L551.6,363.3 L554.4,362.8 L557.2,362.5 L560.0,362.5 L562.9,363.1 L565.7,363.1 L568.5,363.0 L571.3,364.5 L574.1,361.2 L576.9,360.4 L579.7,359.6 L582.5,359.3 L585.3,359.0 L588.2,358.6 L591.0,358.2 L593.8,358.6 L596.6,358.9 L599.4,358.9 L602.2,358.9 L605.0,360.0 L607.8,358.8 L610.6,357.4 L613.5,356.7 L616.3,356.6 L619.1,356.9 L621.9,357.2 L624.7,357.5 L627.5,357.6 L630.3,357.6 L633.1,358.5 L635.9,357.8 L638.7,359.2 L641.6,359.5 L644.4,360.2 L647.2,359.5 L650.0,359.0 L652.8,358.9 L655.6,358.8 L658.4,358.8 L661.2,359.1 L664.0,359.6 L666.9,360.1 L669.7,359.6 L672.5,359.2 L675.3,356.2 L678.1,356.5 L680.9,356.7 L683.7,356.2 L686.5,355.9 L689.3,355.7 L692.2,355.5 L695.0,356.0 L697.8,356.3 L700.6,356.1 L703.4,355.9 L706.2,358.0 L709.0,358.9 L711.8,357.9 L714.6,357.3 L717.5,357.3 L720.3,357.3 L723.1,362.3 L725.9,367.4 L728.7,372.0 L731.5,372.8 L734.3,373.5 L737.1,374.1 L739.9,376.3 L742.8,356.8 L745.6,355.4 L748.4,358.6 L751.2,356.2 L754.0,355.7 L756.8,355.3 L759.6,355.9 L762.4,356.4 L765.2,356.1 L768.0,355.8 L770.9,357.9 L773.7,361.5 L776.5,365.2 L779.3,365.3 L782.1,365.4 L784.9,365.3 L787.7,365.5 L790.5,365.5 L793.3,365.6 L796.2,365.5 L799.0,365.7 L801.8,365.7 L804.6,365.8 L807.4,368.3 L810.2,375.5 L813.0,375.9 L815.8,375.8 L818.6,376.0 L821.5,376.1 L824.3,376.3 L827.1,376.2 L829.9,376.4 L832.7,376.5 L835.5,376.7 L838.3,376.9 L841.1,377.0 L843.9,444.2 L846.8,444.3 L849.6,444.3 L852.4,444.2 L855.2,444.2 L858.0,444.2 L860.8,444.2 L863.6,444.2 L866.4,444.3 L869.2,444.2 L872.0,444.2 L874.9,444.2 L877.7,455.0 L880.5,455.2 L883.3,455.4 L886.1,455.5 L888.9,455.7 L891.7,455.9 L894.5,456.0 L897.3,456.1 L900.2,456.5 L903.0,456.7 L905.8,456.9 L908.6,457.1 L911.4,482.0 L914.2,482.3 L917.0,482.6 L919.8,483.0 L922.6,483.3 L925.5,483.6 L928.3,483.9 L931.1,484.1 L933.9,484.4 L936.7,484.5 L939.5,484.7 L942.3,484.9 L945.1,484.4 L947.9,484.2 L950.8,483.9 L953.6,483.8 L956.4,483.5 L959.2,483.2 L962.0,483.0 L964.8,482.6 L967.6,482.3 L970.4,481.9 L973.2,481.7 L976.0,481.3 L978.9,467.0 L981.7,467.0 L984.5,466.9 L987.3,466.9 L990.1,467.0 L992.9,467.0 L995.7,467.1 L998.5,466.9 L1001.3,466.8 L1004.2,466.9 L1007.0,466.8 L1009.8,466.7 L1012.6,466.8 L1015.4,466.6 L1018.2,466.6 L1021.0,466.6 L1023.8,466.5 L1026.6,466.4 L1029.5,466.2 L1032.3,466.1 L1035.1,466.0 L1037.9,466.0 L1040.7,465.9 L1043.5,465.8 L1046.3,463.2 L1049.1,463.2 L1051.9,463.3 L1054.8,463.3 L1057.6,463.3 L1060.4,463.3 L1063.2,463.3 L1066.0,463.2 L1068.8,463.1 L1071.6,463.1 L1074.4,463.0 L1077.2,462.9 L1080.0,462.4 L1082.9,462.4 L1085.7,462.4 L1088.5,462.4 L1091.3,462.4 L1094.1,462.3 L1096.9,462.3 L1099.7,462.3 L1102.5,462.2 L1105.3,462.1 L1108.2,462.0 L1111.0,461.9 L1113.8,461.2 L1116.6,461.2 L1119.4,461.3 L1122.2,461.3 L1125.0,461.3 L1127.8,461.2 L1130.6,461.3 L1133.5,461.3 L1136.3,461.2 L1139.1,461.3 L1141.9,461.3 L1144.7,461.3 L1144.7,579.0 L1141.9,579.0 L1139.1,579.0 L1136.3,579.0 L1133.5,579.0 L1130.6,579.0 L1127.8,579.0 L1125.0,579.0 L1122.2,579.0 L1119.4,579.0 L1116.6,579.0 L1113.8,579.0 L1111.0,579.0 L1108.2,579.0 L1105.3,579.0 L1102.5,579.0 L1099.7,579.0 L1096.9,579.0 L1094.1,579.0 L1091.3,579.0 L1088.5,579.0 L1085.7,579.0 L1082.9,579.0 L1080.0,579.0 L1077.2,579.0 L1074.4,579.0 L1071.6,579.0 L1068.8,579.0 L1066.0,579.0 L1063.2,579.0 L1060.4,579.0 L1057.6,579.0 L1054.8,579.0 L1051.9,579.0 L1049.1,579.0 L1046.3,579.0 L1043.5,579.0 L1040.7,579.0 L1037.9,579.0 L1035.1,579.0 L1032.3,579.0 L1029.5,579.0 L1026.6,579.0 L1023.8,579.0 L1021.0,579.0 L1018.2,579.0 L1015.4,579.0 L1012.6,579.0 L1009.8,579.0 L1007.0,579.0 L1004.2,579.0 L1001.3,579.0 L998.5,579.0 L995.7,579.0 L992.9,579.0 L990.1,579.0 L987.3,579.0 L984.5,579.0 L981.7,579.0 L978.9,579.0 L976.0,579.0 L973.2,579.0 L970.4,579.0 L967.6,579.0 L964.8,579.0 L962.0,579.0 L959.2,579.0 L956.4,579.0 L953.6,579.0 L950.8,579.0 L947.9,579.0 L945.1,579.0 L942.3,579.0 L939.5,579.0 L936.7,579.0 L933.9,579.0 L931.1,579.0 L928.3,579.0 L925.5,579.0 L922.6,579.0 L919.8,579.0 L917.0,579.0 L914.2,579.0 L911.4,579.0 L908.6,579.0 L905.8,579.0 L903.0,579.0 L900.2,579.0 L897.3,579.0 L894.5,579.0 L891.7,579.0 L888.9,579.0 L886.1,579.0 L883.3,579.0 L880.5,579.0 L877.7,579.0 L874.9,579.0 L872.0,579.0 L869.2,579.0 L866.4,579.0 L863.6,579.0 L860.8,579.0 L858.0,579.0 L855.2,579.0 L852.4,579.0 L849.6,579.0 L846.8,579.0 L843.9,579.0 L841.1,579.0 L838.3,579.0 L835.5,579.0 L832.7,579.0 L829.9,579.0 L827.1,579.0 L824.3,579.0 L821.5,579.0 L818.6,579.0 L815.8,579.0 L813.0,579.0 L810.2,579.0 L807.4,579.0 L804.6,579.0 L801.8,579.0 L799.0,579.0 L796.2,579.0 L793.3,579.0 L790.5,579.0 L787.7,579.0 L784.9,579.0 L782.1,579.0 L779.3,579.0 L776.5,579.0 L773.7,579.0 L770.9,579.0 L768.0,579.0 L765.2,579.0 L762.4,579.0 L759.6,579.0 L756.8,579.0 L754.0,579.0 L751.2,579.0 L748.4,579.0 L745.6,579.0 L742.8,579.0 L739.9,579.0 L737.1,579.0 L734.3,579.0 L731.5,579.0 L728.7,579.0 L725.9,579.0 L723.1,579.0 L720.3,579.0 L717.5,579.0 L714.6,579.0 L711.8,579.0 L709.0,579.0 L706.2,579.0 L703.4,579.0 L700.6,579.0 L697.8,579.0 L695.0,579.0 L692.2,579.0 L689.3,579.0 L686.5,579.0 L683.7,579.0 L680.9,579.0 L678.1,579.0 L675.3,579.0 L672.5,579.0 L669.7,579.0 L666.9,579.0 L664.0,579.0 L661.2,579.0 L658.4,579.0 L655.6,579.0 L652.8,579.0 L650.0,579.0 L647.2,579.0 L644.4,579.0 L641.6,579.0 L638.7,579.0 L635.9,579.0 L633.1,579.0 L630.3,579.0 L627.5,579.0 L624.7,579.0 L621.9,579.0 L619.1,579.0 L616.3,579.0 L613.5,579.0 L610.6,579.0 L607.8,579.0 L605.0,579.0 L602.2,579.0 L599.4,579.0 L596.6,579.0 L593.8,579.0 L591.0,579.0 L588.2,579.0 L585.3,579.0 L582.5,579.0 L579.7,579.0 L576.9,579.0 L574.1,579.0 L571.3,579.0 L568.5,579.0 L565.7,579.0 L562.9,579.0 L560.0,579.0 L557.2,579.0 L554.4,579.0 L551.6,579.0 L548.8,579.0 L546.0,579.0 L543.2,579.0 L540.4,579.0 L537.6,579.0 L534.7,579.0 L531.9,579.0 L529.1,579.0 L526.3,579.0 L523.5,579.0 L520.7,579.0 L517.9,579.0 L515.1,579.0 L512.3,579.0 L509.5,579.0 L506.6,579.0 L503.8,579.0 L501.0,579.0 L498.2,579.0 L495.4,579.0 L492.6,579.0 L489.8,579.0 L487.0,579.0 L484.2,579.0 L481.3,579.0 L478.5,579.0 L475.7,579.0 L472.9,579.0 L470.1,579.0 L467.3,579.0 L464.5,579.0 L461.7,579.0 L458.9,579.0 L456.0,579.0 L453.2,579.0 L450.4,579.0 L447.6,579.0 L444.8,579.0 L442.0,579.0 L439.2,579.0 L436.4,579.0 L433.6,579.0 L430.7,579.0 L427.9,579.0 L425.1,579.0 L422.3,579.0 L419.5,579.0 L416.7,579.0 L413.9,579.0 L411.1,579.0 L408.3,579.0 L405.4,579.0 L402.6,579.0 L399.8,579.0 L397.0,579.0 L394.2,579.0 L391.4,579.0 L388.6,579.0 L385.8,579.0 L383.0,579.0 L380.2,579.0 L377.3,579.0 L374.5,579.0 L371.7,579.0 L368.9,579.0 L366.1,579.0 L363.3,579.0 L360.5,579.0 L357.7,579.0 L354.9,579.0 L352.0,579.0 L349.2,579.0 L346.4,579.0 L343.6,579.0 L340.8,579.0 L338.0,579.0 L335.2,579.0 L332.4,579.0 L329.6,579.0 L326.7,579.0 L323.9,579.0 L321.1,579.0 L318.3,579.0 L315.5,579.0 L312.7,579.0 L309.9,579.0 L307.1,579.0 L304.3,579.0 L301.4,579.0 L298.6,579.0 L295.8,579.0 L293.0,579.0 L290.2,579.0 L287.4,579.0 L284.6,579.0 L281.8,579.0 L279.0,579.0 L276.2,579.0 L273.3,579.0 L270.5,579.0 L267.7,579.0 L264.9,579.0 L262.1,579.0 L259.3,579.0 L256.5,579.0 L253.7,579.0 L250.9,579.0 L248.0,579.0 L245.2,579.0 L242.4,579.0 L239.6,579.0 L236.8,579.0 L234.0,579.0 L231.2,579.0 L228.4,579.0 L225.6,579.0 L222.7,579.0 L219.9,579.0 L217.1,579.0 L214.3,579.0 L211.5,579.0 L208.7,579.0 L205.9,579.0 L203.1,579.0 L200.3,579.0 L197.4,579.0 L194.6,579.0 L191.8,579.0 L189.0,579.0 L186.2,579.0 L183.4,579.0 L180.6,579.0 L177.8,579.0 L175.0,579.0 L172.2,579.0 L169.3,579.0 L166.5,579.0 L163.7,579.0 L160.9,579.0 L158.1,579.0 L155.3,579.0 L152.5,579.0 L149.7,579.0 L146.9,579.0 L144.0,579.0 L141.2,579.0 L138.4,579.0 L135.6,579.0Z" fill="#00BFC4"/>
<path d="M135.6,537.4 L138.4,537.2 L141.2,537.4 L144.0,537.0 L146.9,537.2 L149.7,537.0 L152.5,536.8 L155.3,536.9 L158.1,536.6 L160.9,536.7 L163.7,536.4 L166.5,536.3 L169.3,514.5 L172.2,514.2 L175.0,513.4 L177.8,513.0 L180.6,512.7 L183.4,512.4 L186.2,511.8 L189.0,511.6 L191.8,511.8 L194.6,511.2 L197.4,511.5 L200.3,511.1 L203.1,501.8 L205.9,501.6 L208.7,501.4 L211.5,501.4 L214.3,500.8 L217.1,500.8 L219.9,500.6 L222.7,500.6 L225.6,500.8 L228.4,500.7 L231.2,500.9 L234.0,501.1 L236.8,492.6 L239.6,492.3 L242.4,492.2 L245.2,492.2 L248.0,492.0 L250.9,491.8 L253.7,491.9 L256.5,491.9 L259.3,491.7 L262.1,491.9 L264.9,492.0 L267.7,492.2 L270.5,487.6 L273.3,487.3 L276.2,487.6 L279.0,487.1 L281.8,487.1 L284.6,487.2 L287.4,486.8 L290.2,487.2 L293.0,487.2 L295.8,487.7 L298.6,487.9 L301.4,488.0 L304.3,486.4 L307.1,486.0 L309.9,485.9 L312.7,485.7 L315.5,485.5 L318.3,485.2 L321.1,485.2 L323.9,485.5 L326.7,485.5 L329.6,485.8 L332.4,485.8 L335.2,486.3 L338.0,485.1 L340.8,485.0 L343.6,484.7 L346.4,484.3 L349.2,484.1 L352.0,484.0 L354.9,483.5 L357.7,484.0 L360.5,484.1 L363.3,484.3 L366.1,484.5 L368.9,485.1 L371.7,482.8 L374.5,482.5 L377.3,482.2 L380.2,482.1 L383.0,481.3 L385.8,481.1 L388.6,480.8 L391.4,481.3 L394.2,481.6 L397.0,482.0 L399.8,482.0 L402.6,482.5 L405.4,483.8 L408.3,485.8 L411.1,483.1 L413.9,482.2 L416.7,481.3 L419.5,480.6 L422.3,480.0 L425.1,480.0 L427.9,480.0 L430.7,481.3 L433.6,481.2 L436.4,481.2 L439.2,479.0 L442.0,479.9 L444.8,479.1 L447.6,479.2 L450.4,480.2 L453.2,478.2 L456.0,478.0 L458.9,478.0 L461.7,478.4 L464.5,479.2 L467.3,478.2 L470.1,478.8 L472.9,478.0 L475.7,477.8 L478.5,477.6 L481.3,477.2 L484.2,476.9 L487.0,476.7 L489.8,476.5 L492.6,476.7 L495.4,477.1 L498.2,477.2 L501.0,477.4 L503.8,478.2 L506.6,477.0 L509.5,478.3 L512.3,477.6 L515.1,477.1 L517.9,476.8 L520.7,476.5 L523.5,476.2 L526.3,476.4 L529.1,476.9 L531.9,477.4 L534.7,477.8 L537.6,478.0 L540.4,477.0 L543.2,476.8 L546.0,476.7 L548.8,476.4 L551.6,476.1 L554.4,475.7 L557.2,475.5 L560.0,475.6 L562.9,476.2 L565.7,476.2 L568.5,476.2 L571.3,477.5 L574.1,476.2 L576.9,475.9 L579.7,475.5 L582.5,475.5 L585.3,475.5 L588.2,475.5 L591.0,475.5 L593.8,475.9 L596.6,476.3 L599.4,476.4 L602.2,476.5 L605.0,477.5 L607.8,476.2 L610.6,475.1 L613.5,474.6 L616.3,474.6 L619.1,474.9 L621.9,475.2 L624.7,475.5 L627.5,475.6 L630.3,475.6 L633.1,476.3 L635.9,475.7 L638.7,477.0 L641.6,477.0 L644.4,477.6 L647.2,477.1 L650.0,476.6 L652.8,476.6 L655.6,476.5 L658.4,476.5 L661.2,476.7 L664.0,477.0 L666.9,477.2 L669.7,476.7 L672.5,476.2 L675.3,473.8 L678.1,473.9 L680.9,474.1 L683.7,473.6 L686.5,473.4 L689.3,473.2 L692.2,473.0 L695.0,473.4 L697.8,473.7 L700.6,473.5 L703.4,473.3 L706.2,475.0 L709.0,475.6 L711.8,474.8 L714.6,474.2 L717.5,474.2 L720.3,474.2 L723.1,479.6 L725.9,485.1 L728.7,485.4 L731.5,485.6 L734.3,485.8 L737.1,486.0 L739.9,487.4 L742.8,474.7 L745.6,474.1 L748.4,475.6 L751.2,473.6 L754.0,473.2 L756.8,472.8 L759.6,473.3 L762.4,473.8 L765.2,473.5 L768.0,473.2 L770.9,474.8 L773.7,477.9 L776.5,480.9 L779.3,481.0 L782.1,481.1 L784.9,481.1 L787.7,481.3 L790.5,481.3 L793.3,481.5 L796.2,481.4 L799.0,481.7 L801.8,481.6 L804.6,481.8 L807.4,483.9 L810.2,489.5 L813.0,489.8 L815.8,489.8 L818.6,490.0 L821.5,490.1 L824.3,490.2 L827.1,490.2 L829.9,490.5 L832.7,490.6 L835.5,490.9 L838.3,491.1 L841.1,491.2 L843.9,547.0 L846.8,547.1 L849.6,547.1 L852.4,546.9 L855.2,546.9 L858.0,547.0 L860.8,547.0 L863.6,547.0 L866.4,547.0 L869.2,547.0 L872.0,546.9 L874.9,545.5 L877.7,545.0 L880.5,545.1 L883.3,545.2 L886.1,545.3 L888.9,545.3 L891.7,545.4 L894.5,545.5 L897.3,545.6 L900.2,545.9 L903.0,546.0 L905.8,546.2 L908.6,546.3 L911.4,551.0 L914.2,550.9 L917.0,550.8 L919.8,550.8 L922.6,550.6 L925.5,550.5 L928.3,550.5 L931.1,550.3 L933.9,550.3 L936.7,550.1 L939.5,550.0 L942.3,549.9 L945.1,549.9 L947.9,549.8 L950.8,549.6 L953.6,549.6 L956.4,549.4 L959.2,549.1 L962.0,549.0 L964.8,548.8 L967.6,548.7 L970.4,548.5 L973.2,548.5 L976.0,548.3 L978.9,546.7 L981.7,546.7 L984.5,546.6 L987.3,546.6 L990.1,546.6 L992.9,546.6 L995.7,546.7 L998.5,546.5 L1001.3,546.5 L1004.2,546.6 L1007.0,546.5 L1009.8,547.4 L1012.6,548.0 L1015.4,547.9 L1018.2,547.9 L1021.0,548.0 L1023.8,547.9 L1026.6,547.8 L1029.5,547.7 L1032.3,547.7 L1035.1,547.6 L1037.9,547.6 L1040.7,547.6 L1043.5,547.5 L1046.3,547.0 L1049.1,547.0 L1051.9,547.0 L1054.8,547.1 L1057.6,547.1 L1060.4,547.0 L1063.2,547.1 L1066.0,547.0 L1068.8,547.0 L1071.6,547.0 L1074.4,547.0 L1077.2,546.9 L1080.0,546.7 L1082.9,546.7 L1085.7,546.7 L1088.5,546.8 L1091.3,546.8 L1094.1,546.7 L1096.9,546.8 L1099.7,546.8 L1102.5,546.8 L1105.3,546.7 L1108.2,546.7 L1111.0,546.7 L1113.8,546.7 L1116.6,546.7 L1119.4,546.8 L1122.2,546.8 L1125.0,546.8 L1127.8,546.7 L1130.6,546.8 L1133.5,546.8 L1136.3,546.7 L1139.1,546.8 L1141.9,546.8 L1144.7,546.8 L1144.7,579.0 L1141.9,579.0 L1139.1,579.0 L1136.3,579.0 L1133.5,579.0 L1130.6,579.0 L1127.8,579.0 L1125.0,579.0 L1122.2,579.0 L1119.4,579.0 L1116.6,579.0 L1113.8,579.0 L1111.0,579.0 L1108.2,579.0 L1105.3,579.0 L1102.5,579.0 L1099.7,579.0 L1096.9,579.0 L1094.1,579.0 L1091.3,579.0 L1088.5,579.0 L1085.7,579.0 L1082.9,579.0 L1080.0,579.0 L1077.2,579.0 L1074.4,579.0 L1071.6,579.0 L1068.8,579.0 L1066.0,579.0 L1063.2,579.0 L1060.4,579.0 L1057.6,579.0 L1054.8,579.0 L1051.9,579.0 L1049.1,579.0 L1046.3,579.0 L1043.5,579.0 L1040.7,579.0 L1037.9,579.0 L1035.1,579.0 L1032.3,579.0 L1029.5,579.0 L1026.6,579.0 L1023.8,579.0 L1021.0,579.0 L1018.2,579.0 L1015.4,579.0 L1012.6,579.0 L1009.8,579.0 L1007.0,579.0 L1004.2,579.0 L1001.3,579.0 L998.5,579.0 L995.7,579.0 L992.9,579.0 L990.1,579.0 L987.3,579.0 L984.5,579.0 L981.7,579.0 L978.9,579.0 L976.0,579.0 L973.2,579.0 L970.4,579.0 L967.6,579.0 L964.8,579.0 L962.0,579.0 L959.2,579.0 L956.4,579.0 L953.6,579.0 L950.8,579.0 L947.9,579.0 L945.1,579.0 L942.3,579.0 L939.5,579.0 L936.7,579.0 L933.9,579.0 L931.1,579.0 L928.3,579.0 L925.5,579.0 L922.6,579.0 L919.8,579.0 L917.0,579.0 L914.2,579.0 L911.4,579.0 L908.6,579.0 L905.8,579.0 L903.0,579.0 L900.2,579.0 L897.3,579.0 L894.5,579.0 L891.7,579.0 L888.9,579.0 L886.1,579.0 L883.3,579.0 L880.5,579.0 L877.7,579.0 L874.9,579.0 L872.0,579.0 L869.2,579.0 L866.4,579.0 L863.6,579.0 L860.8,579.0 L858.0,579.0 L855.2,579.0 L852.4,579.0 L849.6,579.0 L846.8,579.0 L843.9,579.0 L841.1,579.0 L838.3,579.0 L835.5,579.0 L832.7,579.0 L829.9,579.0 L827.1,579.0 L824.3,579.0 L821.5,579.0 L818.6,579.0 L815.8,579.0 L813.0,579.0 L810.2,579.0 L807.4,579.0 L804.6,579.0 L801.8,579.0 L799.0,579.0 L796.2,579.0 L793.3,579.0 L790.5,579.0 L787.7,579.0 L784.9,579.0 L782.1,579.0 L779.3,579.0 L776.5,579.0 L773.7,579.0 L770.9,579.0 L768.0,579.0 L765.2,579.0 L762.4,579.0 L759.6,579.0 L756.8,579.0 L754.0,579.0 L751.2,579.0 L748.4,579.0 L745.6,579.0 L742.8,579.0 L739.9,579.0 L737.1,579.0 L734.3,579.0 L731.5,579.0 L728.7,579.0 L725.9,579.0 L723.1,579.0 L720.3,579.0 L717.5,579.0 L714.6,579.0 L711.8,579.0 L709.0,579.0 L706.2,579.0 L703.4,579.0 L700.6,579.0 L697.8,579.0 L695.0,579.0 L692.2,579.0 L689.3,579.0 L686.5,579.0 L683.7,579.0 L680.9,579.0 L678.1,579.0 L675.3,579.0 L672.5,579.0 L669.7,579.0 L666.9,579.0 L664.0,579.0 L661.2,579.0 L658.4,579.0 L655.6,579.0 L652.8,579.0 L650.0,579.0 L647.2,579.0 L644.4,579.0 L641.6,579.0 L638.7,579.0 L635.9,579.0 L633.1,579.0 L630.3,579.0 L627.5,579.0 L624.7,579.0 L621.9,579.0 L619.1,579.0 L616.3,579.0 L613.5,579.0 L610.6,579.0 L607.8,579.0 L605.0,579.0 L602.2,579.0 L599.4,579.0 L596.6,579.0 L593.8,579.0 L591.0,579.0 L588.2,579.0 L585.3,579.0 L582.5,579.0 L579.7,579.0 L576.9,579.0 L574.1,579.0 L571.3,579.0 L568.5,579.0 L565.7,579.0 L562.9,579.0 L560.0,579.0 L557.2,579.0 L554.4,579.0 L551.6,579.0 L548.8,579.0 L546.0,579.0 L543.2,579.0 L540.4,579.0 L537.6,579.0 L534.7,579.0 L531.9,579.0 L529.1,579.0 L526.3,579.0 L523.5,579.0 L520.7,579.0 L517.9,579.0 L515.1,579.0 L512.3,579.0 L509.5,579.0 L506.6,579.0 L503.8,579.0 L501.0,579.0 L498.2,579.0 L495.4,579.0 L492.6,579.0 L489.8,579.0 L487.0,579.0 L484.2,579.0 L481.3,579.0 L478.5,579.0 L475.7,579.0 L472.9,579.0 L470.1,579.0 L467.3,579.0 L464.5,579.0 L461.7,579.0 L458.9,579.0 L456.0,579.0 L453.2,579.0 L450.4,579.0 L447.6,579.0 L444.8,579.0 L442.0,579.0 L439.2,579.0 L436.4,579.0 L433.6,579.0 L430.7,579.0 L427.9,579.0 L425.1,579.0 L422.3,579.0 L419.5,579.0 L416.7,579.0 L413.9,579.0 L411.1,579.0 L408.3,579.0 L405.4,579.0 L402.6,579.0 L399.8,579.0 L397.0,579.0 L394.2,579.0 L391.4,579.0 L388.6,579.0 L385.8,579.0 L383.0,579.0 L380.2,579.0 L377.3,579.0 L374.5,579.0 L371.7,579.0 L368.9,579.0 L366.1,579.0 L363.3,579.0 L360.5,579.0 L357.7,579.0 L354.9,579.0 L352.0,579.0 L349.2,579.0 L346.4,579.0 L343.6,579.0 L340.8,579.0 L338.0,579.0 L335.2,579.0 L332.4,579.0 L329.6,579.0 L326.7,579.0 L323.9,579.0 L321.1,579.0 L318.3,579.0 L315.5,579.0 L312.7,579.0 L309.9,579.0 L307.1,579.0 L304.3,579.0 L301.4,579.0 L298.6,579.0 L295.8,579.0 L293.0,579.0 L290.2,579.0 L287.4,579.0 L284.6,579.0 L281.8,579.0 L279.0,579.0 L276.2,579.0 L273.3,579.0 L270.5,579.0 L267.7,579.0 L264.9,579.0 L262.1,579.0 L259.3,579.0 L256.5,579.0 L253.7,579.0 L250.9,579.0 L248.0,579.0 L245.2,579.0 L242.4,579.0 L239.6,579.0 L236.8,579.0 L234.0,579.0 L231.2,579.0 L228.4,579.0 L225.6,579.0 L222.7,579.0 L219.9,579.0 L217.1,579.0 L214.3,579.0 L211.5,579.0 L208.7,579.0 L205.9,579.0 L203.1,579.0 L200.3,579.0 L197.4,579.0 L194.6,579.0 L191.8,579.0 L189.0,579.0 L186.2,579.0 L183.4,579.0 L180.6,579.0 L177.8,579.0 L175.0,579.0 L172.2,579.0 L169.3,579.0 L166.5,579.0 L163.7,579.0 L160.9,579.0 L158.1,579.0 L155.3,579.0 L152.5,579.0 L149.7,579.0 L146.9,579.0 L144.0,579.0 L141.2,579.0 L138.4,579.0 L135.6,579.0Z" fill="#C77CFF"/>
</g>
<rect x="85.4" y="75.85" width="1109.1999999999998" height="526.1" fill="none" stroke="#000" stroke-width="2.65"/>
<g id="yaxis"><text x="73.5" y="585.70" class="tk" text-anchor="end">0</text><text x="73.5" y="465.57" class="tk" text-anchor="end">1000</text><text x="73.5" y="345.45" class="tk" text-anchor="end">2000</text><text x="73.5" y="225.32" class="tk" text-anchor="end">3000</text><text x="73.5" y="105.20" class="tk" text-anchor="end">4000</text></g>
<g id="xaxis"><text x="236.80" y="627.7" class="tk" text-anchor="middle">1924</text><text x="405.45" y="627.7" class="tk" text-anchor="middle">1929</text><text x="574.10" y="627.7" class="tk" text-anchor="middle">1934</text><text x="742.75" y="627.7" class="tk" text-anchor="middle">1939</text><text x="911.40" y="627.7" class="tk" text-anchor="middle">1944</text><text x="1080.05" y="627.7" class="tk" text-anchor="middle">1949</text></g>
<text x="640" y="652.7" class="ttl" text-anchor="middle">Year</text>
<text transform="translate(21.2,338.5) rotate(-90)" class="ttl" text-anchor="middle">Number of series</text>
</svg>
</body></html>
